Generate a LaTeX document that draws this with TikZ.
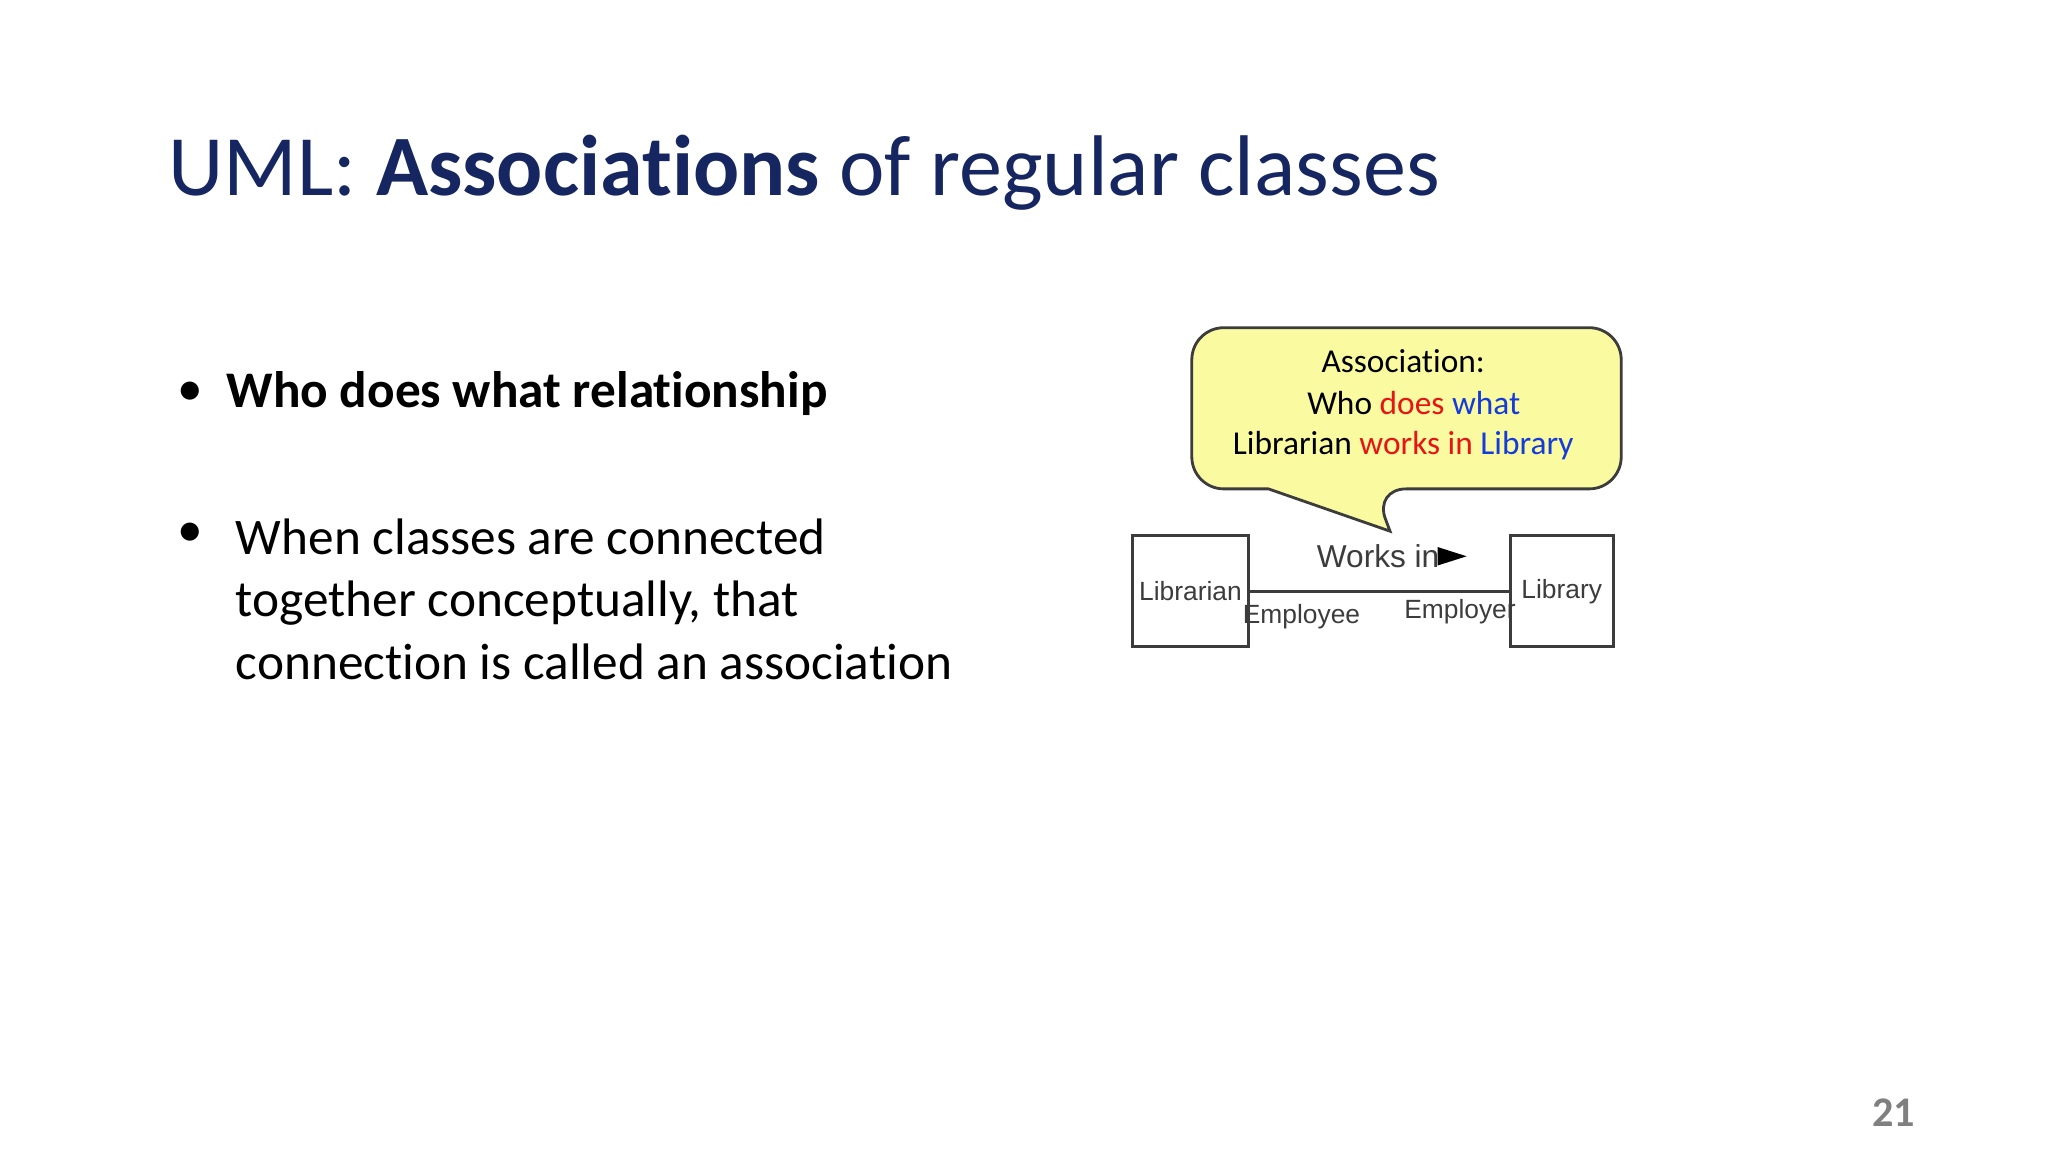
\documentclass[tikz,border=0pt]{standalone}
\usepackage{fontspec}
\setmainfont[RawFeature=-liga]{Carlito}
\newfontfamily\arialf{Liberation Sans}
\definecolor{titleblue}{RGB}{22,38,96}
\definecolor{callfill}{RGB}{250,250,160}
\definecolor{uline}{RGB}{60,60,60}
\definecolor{ared}{RGB}{230,20,20}
\definecolor{ablue}{RGB}{20,60,220}
\begin{document}
\begin{tikzpicture}[x=0.013213cm,y=-0.013213cm,
  body/.style={font=\fontsize{14.6}{17.8}\selectfont,anchor=west,inner sep=0},
  ctext/.style={font=\fontsize{9.5}{11}\selectfont,inner sep=0},
  cls/.style={draw=uline,line width=0.8pt,fill=white,inner sep=0,minimum width=#1,minimum height=1.11cm},
  small/.style={font=\arialf\fontsize{7.5}{9}\selectfont,text=uline,inner sep=0}]
\useasboundingbox (0,0) rectangle (1550,872);
\node[anchor=west,inner sep=0,text=titleblue,font=\fontsize{24.5}{29}\selectfont] (title) at (127,131) {UML: \textbf{Associations} of regular classes};
\node[body] (b1) at (134,298) {•};
\node[body,font=\bfseries\fontsize{14.6}{17.8}\selectfont] (t1) at (171,298) {Who does what relationship};
\node[body] (b2) at (134,405) {•};
\node[body,anchor=north west,align=left] (t2) at (178,392) {When classes are connected\\together conceptually, that\\connection is called an association};
% callout
\draw[fill=callfill,draw=uline,line width=0.8pt,rounded corners=0.32cm] (902,248) -- (1227,248) -- (1227,370) -- (1040,370) [sharp corners] -- (1052,402) -- (960,370) [rounded corners=0.32cm] -- (902,370) -- cycle;
\node[ctext] (c1) at (1062,273) {Association:};
\node[ctext] (c2) at (1070,305) {Who \textcolor{ared}{does} \textcolor{ablue}{what}};
\node[ctext] (c3) at (1062,337) {Librarian \textcolor{ared}{works in} \textcolor{ablue}{Library}};
% classes
\node[cls=1.163cm] (lib1) at (901,447.5) {};
\node[small] at (lib1) {Librarian};
\node[cls=1.03cm] (lib2) at (1182,447.5) {};
\node[small] at (lib2) {Library};
\draw[uline,line width=0.8pt] (lib1.east) -- (lib2.west);
\node[small,font=\arialf\fontsize{9}{11}\selectfont] (w) at (1043,421) {Works in};
\fill[black] (1088,414) -- (1110,421) -- (1088,428) -- cycle;
\node[small] (e1) at (985,467) {Employee};
\node[small] (e2) at (1105,463) {Employer};
\node[inner sep=0,text=gray,font=\bfseries\fontsize{12}{14}\selectfont] (pg) at (1433,842) {21};
\end{tikzpicture}
\end{document}
